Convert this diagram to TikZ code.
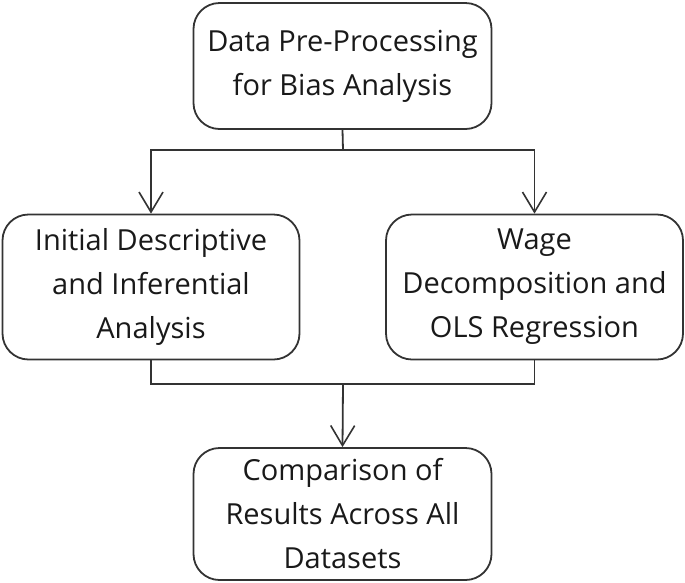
\documentclass[tikz,border=0pt]{standalone}
\usepackage{fontspec}
\setmainfont{Open Sans}
\usetikzlibrary{arrows.meta}
\begin{document}
\begin{tikzpicture}[x=1pt,y=-1pt,
  box/.style={draw=black!80,line width=1.8pt,rounded corners=26pt,align=center,font=\fontsize{29}{44}\selectfont,text=black!90,inner sep=0pt},
  conn/.style={draw=black!80,line width=1.8pt},
  arr/.style={conn,-{Straight Barb[length=20pt,width=24pt,line width=1.6pt]}}]
\useasboundingbox (0,0) rectangle (685,582);
\node[box,minimum width=298pt,minimum height=126pt] (top) at (342.5,66) {Data Pre-Processing\\for Bias Analysis};
\node[box,minimum width=297pt,minimum height=145pt] (left) at (151,287) {Initial Descriptive\\and Inferential\\Analysis};
\node[box,minimum width=297pt,minimum height=145pt] (right) at (534.5,287) {Wage\\Decomposition and\\OLS Regression};
\node[box,minimum width=298pt,minimum height=132pt] (bot) at (342.5,514) {Comparison of\\Results Across All\\Datasets};
\coordinate (s) at (343,150);
\coordinate (j) at (343,384);
\draw[conn] (top.south) -- (s);
\draw[arr] (s) -| (left.north);
\draw[arr] (s) -| (right.north);
\draw[conn] (left.south) |- (j);
\draw[conn] (right.south) |- (j);
\draw[arr] (j) -- (bot.north);
\end{tikzpicture}
\end{document}
